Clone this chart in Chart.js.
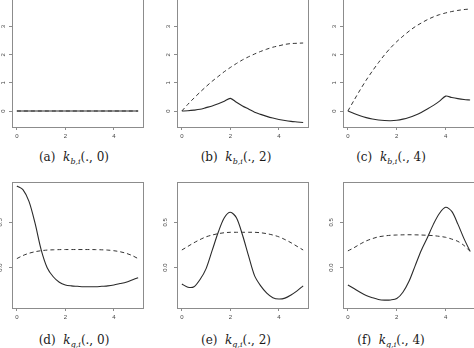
<!DOCTYPE html>
<html>
<head>
<meta charset="utf-8">
<script src="https://cdn.jsdelivr.net/npm/chart.js@4.4.0/dist/chart.umd.min.js"></script>
<style>
  html, body { margin: 0; padding: 0; background: #fff; }
  body { width: 474px; height: 348px; position: relative; overflow: hidden; }
  canvas { position: absolute; }
  .cap {
    position: absolute; width: 140px; margin-left: -70px; text-align: center;
    font-family: "DejaVu Serif", "Liberation Serif", serif; font-size: 12px;
    color: #1a1a1a; line-height: 14px; white-space: nowrap;
  }
  .cap i { font-family: "DejaVu Serif", serif; font-style: italic; }
  .cap sub { font-size: 8px; vertical-align: -3px; line-height: 0; }
</style>
</head>
<body>
<canvas id="pa"></canvas>
<canvas id="pb"></canvas>
<canvas id="pc"></canvas>
<canvas id="pd"></canvas>
<canvas id="pe"></canvas>
<canvas id="pf"></canvas>
<div class="cap" style="left:74px;top:150px">(a)&nbsp; <i>k</i><sub><i>b,i</i></sub>(., 0)</div>
<div class="cap" style="left:236px;top:150px">(b)&nbsp; <i>k</i><sub><i>b,i</i></sub>(., 2)</div>
<div class="cap" style="left:391px;top:150px">(c)&nbsp; <i>k</i><sub><i>b,i</i></sub>(., 4)</div>
<div class="cap" style="left:74px;top:333px">(d)&nbsp; <i>k</i><sub><i>g,i</i></sub>(., 0)</div>
<div class="cap" style="left:236px;top:333px">(e)&nbsp; <i>k</i><sub><i>g,i</i></sub>(., 2)</div>
<div class="cap" style="left:391px;top:333px">(f)&nbsp; <i>k</i><sub><i>g,i</i></sub>(., 4)</div>
<script>
// data
const xs = [0, 0.25, 0.5, 0.75, 1, 1.25, 1.5, 1.75, 2, 2.25, 2.5, 2.75, 3, 3.25, 3.5, 3.75, 4, 4.25, 4.5, 4.75, 5]
const xTicks = [0, 2, 4]
const yTicksB = [0, 1, 2, 3]
const yTicksG = [0, 0.5]

const kb0Solid  = [0, 0, 0, 0, 0, 0, 0, 0, 0, 0, 0, 0, 0, 0, 0, 0, 0, 0, 0, 0, 0]
const kb0Dashed = [0, 0, 0, 0, 0, 0, 0, 0, 0, 0, 0, 0, 0, 0, 0, 0, 0, 0, 0, 0, 0]
const kb2Solid  = [0, 0.01, 0.03, 0.06, 0.12, 0.18, 0.26, 0.35, 0.45, 0.31, 0.18, 0.07, -0.04, -0.12, -0.19, -0.25, -0.3, -0.34, -0.37, -0.39, -0.41]
const kb2Dashed = [0, 0.24, 0.46, 0.67, 0.87, 1.06, 1.23, 1.4, 1.55, 1.69, 1.82, 1.93, 2.03, 2.12, 2.2, 2.27, 2.32, 2.37, 2.4, 2.41, 2.42]
const kb4Solid  = [0, -0.09, -0.17, -0.235, -0.285, -0.32, -0.34, -0.345, -0.33, -0.29, -0.23, -0.15, -0.05, 0.07, 0.2, 0.35, 0.53, 0.48, 0.44, 0.41, 0.39]
const kb4Dashed = [0, 0.38, 0.75, 1.1, 1.42, 1.72, 2.0, 2.25, 2.47, 2.66, 2.84, 3.0, 3.13, 3.25, 3.35, 3.43, 3.49, 3.54, 3.58, 3.61, 3.63]
const kg0Solid  = [0.9, 0.86, 0.73, 0.49, 0.2, 0.0, -0.1, -0.16, -0.19, -0.2, -0.205, -0.21, -0.21, -0.21, -0.205, -0.2, -0.19, -0.175, -0.16, -0.135, -0.11]
const kg0Dashed = [0.1, 0.134, 0.159, 0.176, 0.187, 0.194, 0.197, 0.199, 0.2, 0.2, 0.2, 0.2, 0.2, 0.199, 0.197, 0.194, 0.187, 0.176, 0.159, 0.134, 0.1]
const kg2Solid  = [-0.18, -0.215, -0.21, -0.13, -0.01, 0.19, 0.39, 0.55, 0.61, 0.55, 0.36, 0.13, -0.09, -0.2, -0.28, -0.33, -0.345, -0.335, -0.3, -0.255, -0.2]
const kg2Dashed = [0.195, 0.235, 0.275, 0.31, 0.34, 0.36, 0.375, 0.385, 0.39, 0.39, 0.39, 0.39, 0.39, 0.385, 0.375, 0.36, 0.34, 0.31, 0.275, 0.235, 0.195]
const kg4Solid  = [-0.19, -0.23, -0.27, -0.305, -0.33, -0.35, -0.357, -0.355, -0.34, -0.27, -0.15, 0.02, 0.19, 0.33, 0.48, 0.6, 0.665, 0.62, 0.48, 0.32, 0.18]
const kg4Dashed = [0.185, 0.22, 0.26, 0.295, 0.32, 0.34, 0.35, 0.357, 0.36, 0.362, 0.363, 0.362, 0.36, 0.357, 0.353, 0.345, 0.335, 0.315, 0.29, 0.245, 0.18]

// layout (page px of each plot box)
const AXW = 16, AXH = 18, PADR = 2
const tickFont = { family: "Liberation Sans", size: 6 }

const boxPlugin = {
  id: "box",
  beforeDatasetsDraw(chart) {
    const { ctx, chartArea: a } = chart
    ctx.save()
    ctx.strokeStyle = "#8c8c8c"
    ctx.lineWidth = 1
    ctx.strokeRect(Math.round(a.left) + 0.5, Math.round(a.top) + 0.5,
      Math.round(a.right - a.left), Math.round(a.bottom - a.top))
    ctx.restore()
  }
}

const toPoints = ys => ys.map((y, i) => ({ x: xs[i], y }))

const makePanel = (id, box, yMin, yMax, yTicks, fmt, solid, dashed) => {
  const canva = document.getElementById(id)
  const w = box.r - box.l + AXW + PADR
  const h = box.b - box.t + AXH
  canva.width = w
  canva.height = h
  canva.style.left = (box.l - AXW) + "px"
  canva.style.top = box.t + "px"
  canva.style.width = w + "px"
  canva.style.height = h + "px"

  return new Chart(canva.getContext("2d"), {
    type: "line",
    data: {
      datasets: [
        { data: toPoints(dashed), borderColor: "#333", borderWidth: 1, borderDash: [4, 3] },
        { data: toPoints(solid), borderColor: "#2a2a2a", borderWidth: 1.1 }
      ]
    },
    options: {
      responsive: false,
      animation: false,
      events: [],
      devicePixelRatio: 1,
      layout: { padding: { left: 0, top: 0, right: PADR, bottom: 0 } },
      elements: { point: { radius: 0 }, line: { tension: 0.3 } },
      plugins: { legend: { display: false }, tooltip: { enabled: false } },
      scales: {
        x: {
          type: "linear",
          min: -0.2,
          max: 5.2,
          afterBuildTicks: s => { s.ticks = xTicks.map(v => ({ value: v })) },
          afterFit: s => { s.height = AXH; s.paddingLeft = 0; s.paddingRight = 0 },
          border: { display: false },
          grid: { drawOnChartArea: false, drawTicks: true, tickLength: 3, color: "#8c8c8c" },
          ticks: { font: tickFont, color: "#444", padding: 3, minRotation: 0, maxRotation: 0, callback: v => String(v) }
        },
        y: {
          type: "linear",
          min: yMin,
          max: yMax,
          afterBuildTicks: s => { s.ticks = yTicks.map(v => ({ value: v })) },
          afterFit: s => { s.width = AXW; s.paddingTop = 0; s.paddingBottom = 0 },
          border: { display: false },
          grid: { drawOnChartArea: false, drawTicks: true, tickLength: 3, color: "#8c8c8c" },
          ticks: { font: tickFont, color: "#444", padding: 4, crossAlign: "center", minRotation: 90, maxRotation: 90, callback: fmt }
        }
      }
    },
    plugins: [boxPlugin]
  })
}

const fmtInt = v => String(v)
const fmtOne = v => v.toFixed(1)

// top row: 0 at y=111, 28.1 px per unit, box top off the page
const topMin = -0.569, topMax = 4.306
// bottom row: 0 at y=267.7, 90.8 px per unit
const botMin = -0.444, botMax = 0.944

makePanel("pa", { l: 12, r: 143, t: -10, b: 127 }, topMin, topMax, yTicksB, fmtInt, kb0Solid, kb0Dashed)
makePanel("pb", { l: 177, r: 308, t: -10, b: 127 }, topMin, topMax, yTicksB, fmtInt, kb2Solid, kb2Dashed)
makePanel("pc", { l: 343, r: 475, t: -10, b: 127 }, topMin, topMax, yTicksB, fmtInt, kb4Solid, kb4Dashed)
makePanel("pd", { l: 12, r: 143, t: 182, b: 308 }, botMin, botMax, yTicksG, fmtOne, kg0Solid, kg0Dashed)
makePanel("pe", { l: 177, r: 308, t: 182, b: 308 }, botMin, botMax, yTicksG, fmtOne, kg2Solid, kg2Dashed)
makePanel("pf", { l: 343, r: 475, t: 182, b: 308 }, botMin, botMax, yTicksG, fmtOne, kg4Solid, kg4Dashed)
</script>
</body>
</html>
